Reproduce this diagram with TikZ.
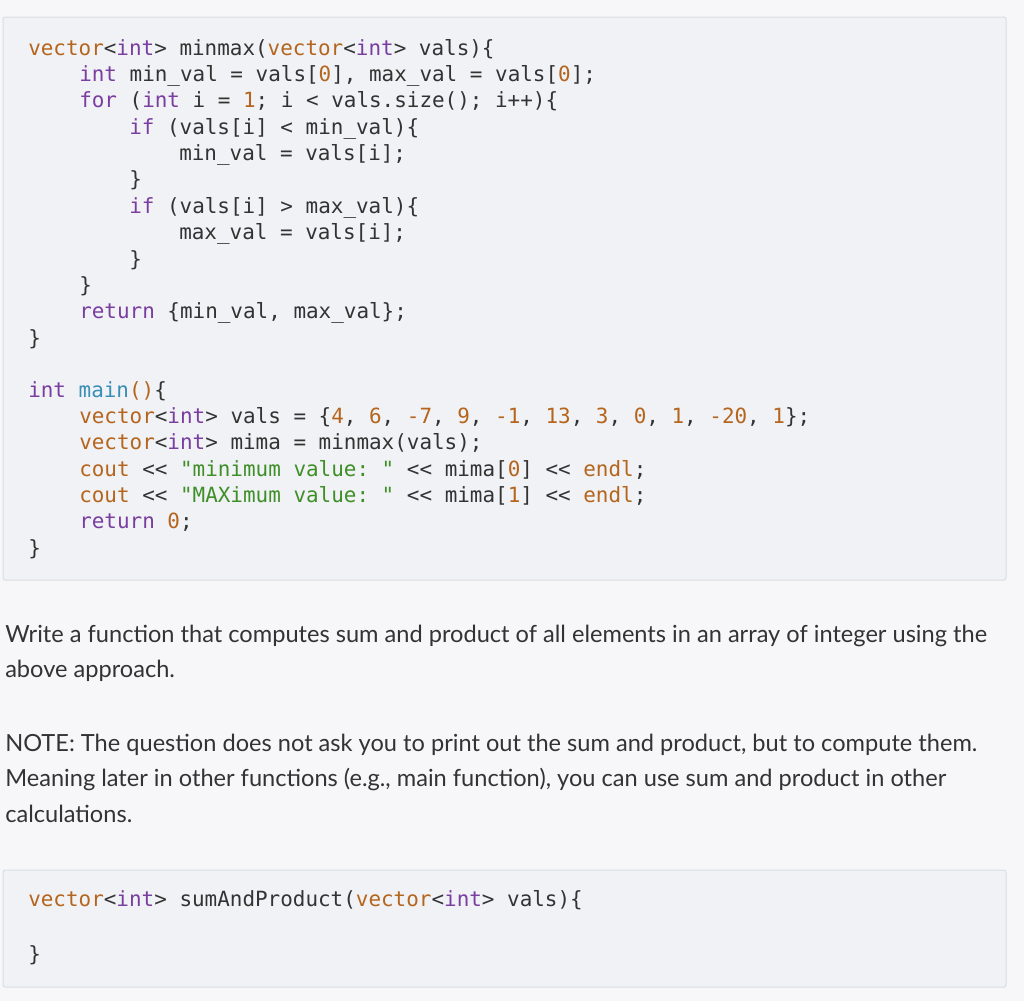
\documentclass[tikz,border=0pt]{standalone}
\usepackage{fontspec}
\setmonofont{DejaVu Sans Mono}
\newfontfamily\prose{Lato}
\definecolor{bgc}{HTML}{F7F7F9}
\definecolor{boxc}{HTML}{F0F2F5}
\definecolor{brd}{HTML}{DADDE2}
\definecolor{kw}{HTML}{7A3EA0}
\definecolor{ty}{HTML}{B5651D}
\definecolor{nm}{HTML}{B5651D}
\definecolor{fn}{HTML}{3A8FB7}
\definecolor{st}{HTML}{3F8F28}
\definecolor{tx}{HTML}{333333}
\newcommand{\K}[1]{\textcolor{kw}{#1}}
\newcommand{\T}[1]{\textcolor{ty}{#1}}
\newcommand{\N}[1]{\textcolor{nm}{#1}}
\newcommand{\F}[1]{\textcolor{fn}{#1}}
\newcommand{\Ss}[1]{\textcolor{st}{#1}}
\begin{document}
\begin{tikzpicture}[x=0.75pt,y=-0.75pt,
  code/.style={anchor=base west,inner sep=0pt,text=tx,font=\ttfamily\fontsize{15.7}{18}\selectfont},
  txt/.style={anchor=base west,inner sep=0pt,text=tx,font=\prose\fontsize{17.7}{20}\selectfont},
  cbox/.style={fill=boxc,draw=brd,line width=0.75pt,rounded corners=1.5pt}]
\fill[bgc] (0,0) rectangle (1024,1001);
\useasboundingbox (0,0) rectangle (1024,1001);
\draw[cbox] (3,17) rectangle (1006,580);
\draw[cbox] (3,870) rectangle (1006,987);
\node[code] (l1) at (28,55) {\T{vector}<\K{int}> minmax(\T{vector}<\K{int}> vals)\{};
\node[code] (l2) at (79,81) {\K{int} min\_val = vals[\N{0}], max\_val = vals[\N{0}];};
\node[code] (l3) at (79,107) {\K{for} (\K{int} i = \N{1}; i < vals.size(); i++)\{};
\node[code] (l4) at (129,134) {\K{if} (vals[i] < min\_val)\{};
\node[code] (l5) at (179,160) {min\_val = vals[i];};
\node[code] (l6) at (129,186) {\}};
\node[code] (l7) at (129,213) {\K{if} (vals[i] > max\_val)\{};
\node[code] (l8) at (179,239) {max\_val = vals[i];};
\node[code] (l9) at (129,266) {\}};
\node[code] (l10) at (79,292) {\}};
\node[code] (l11) at (79,318) {\K{return} \{min\_val, max\_val\};};
\node[code] (l12) at (28,345) {\}};
\node[code] (m1) at (28,397) {\K{int} \F{main}\T{()}\{};
\node[code] (m2) at (79,423) {\T{vector}<\K{int}> vals = \{\N{4}, \N{6}, \N{-7}, \N{9}, \N{-1}, \N{13}, \N{3}, \N{0}, \N{1}, \N{-20}, \N{1}\};};
\node[code] (m3) at (79,449) {\T{vector}<\K{int}> mima = minmax(vals);};
\node[code] (m4) at (79,476) {\T{cout} << \Ss{"minimum\ value:\ "} << mima[\N{0}] << \T{endl};};
\node[code] (m5) at (79,502) {\T{cout} << \Ss{"MAXimum\ value:\ "} << mima[\N{1}] << \T{endl};};
\node[code] (m6) at (79,528) {\K{return} \N{0};};
\node[code] (m7) at (28,555) {\}};
\node[txt] (p1) at (5,642) {Write a function that computes sum and product of all elements in an array of integer using the};
\node[txt] (p2) at (5,677) {above approach.};
\node[txt] (p3) at (5,751) {NOTE: The question does not ask you to print out the sum and product, but to compute them.};
\node[txt] (p4) at (5,786) {Meaning later in other functions (e.g., main function), you can use sum and product in other};
\node[txt] (p5) at (5,822) {calculations.};
\node[code] (s1) at (28,906) {\T{vector}<\K{int}> sumAndProduct(\T{vector}<\K{int}> vals)\{};
\node[code] (s2) at (28,961) {\}};
\end{tikzpicture}
\end{document}
